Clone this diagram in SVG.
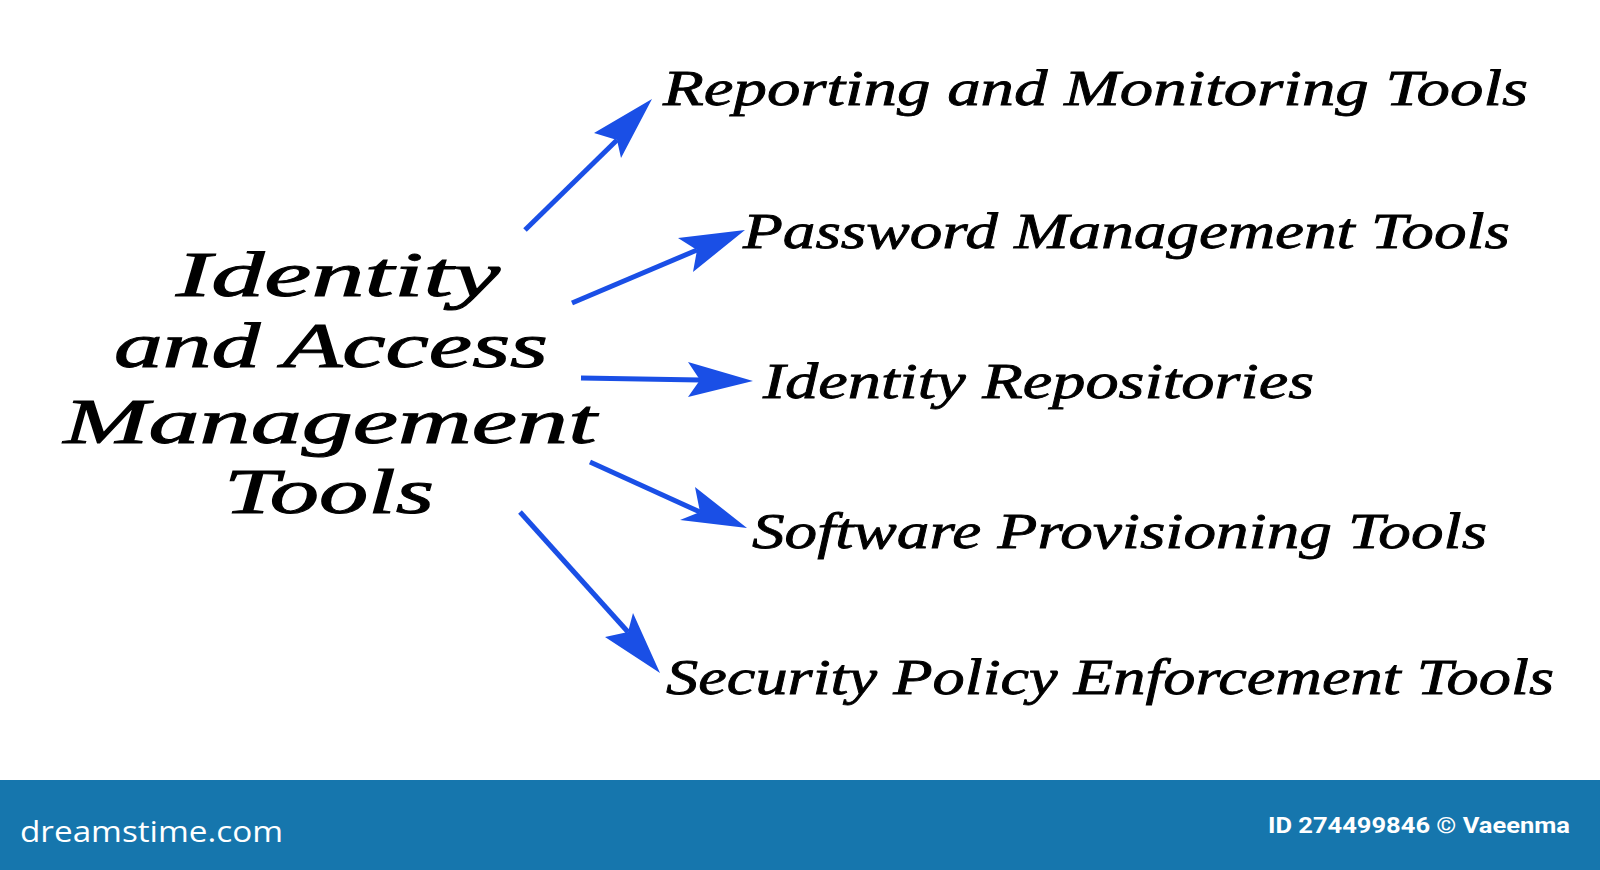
<svg xmlns="http://www.w3.org/2000/svg" width="1600" height="870" viewBox="0 0 1600 870">
<style>
.bg{fill:#ffffff}
.lbl{font-family:"Liberation Serif","DejaVu Serif",serif;font-style:italic;font-size:50px;fill:#000;stroke:#000;stroke-width:0.8}
.main{font-family:"Liberation Serif","DejaVu Serif",serif;font-style:italic;font-size:64px;fill:#000;stroke:#000;stroke-width:1;text-anchor:middle}
.shaft{stroke:#1a4fe6;stroke-width:5;fill:none;stroke-linecap:butt}
.head{fill:#1a4fe6}
.bar{fill:#1676ad}
.brand{font-family:"Open Sans","DejaVu Sans",sans-serif;font-size:30px;fill:#fff}
.id{font-family:"Roboto","Liberation Sans",sans-serif;font-weight:bold;font-size:22px;fill:#fff}
</style>
<rect class="bg" x="0" y="0" width="1600" height="870"/>
<g id="center">
<text class="main" x="338" y="296" textLength="324" lengthAdjust="spacingAndGlyphs">Identity</text>
<text class="main" x="331" y="367" textLength="434" lengthAdjust="spacingAndGlyphs">and Access</text>
<text class="main" x="330" y="443" textLength="533" lengthAdjust="spacingAndGlyphs">Management</text>
<text class="main" x="329" y="513" textLength="210" lengthAdjust="spacingAndGlyphs">Tools</text>
</g>
<g id="n1"><text class="lbl" x="663" y="105" textLength="865" lengthAdjust="spacingAndGlyphs">Reporting and Monitoring Tools</text></g>
<g id="n2"><text class="lbl" x="743" y="248" textLength="767" lengthAdjust="spacingAndGlyphs">Password Management Tools</text></g>
<g id="n3"><text class="lbl" x="763" y="398" textLength="551" lengthAdjust="spacingAndGlyphs">Identity Repositories</text></g>
<g id="n4"><text class="lbl" x="752" y="548" textLength="735" lengthAdjust="spacingAndGlyphs">Software Provisioning Tools</text></g>
<g id="n5"><text class="lbl" x="666" y="694" textLength="888" lengthAdjust="spacingAndGlyphs">Security Policy Enforcement Tools</text></g>
<g id="connectors">
<line class="shaft" x1="525" y1="230" x2="617" y2="140"/>
<polygon class="head" points="652,99 621,158 617,140 594,133"/>
<line class="shaft" x1="572" y1="303" x2="697" y2="250"/>
<polygon class="head" points="745,230 693,272 697,250 678,238"/>
<line class="shaft" x1="581" y1="378" x2="700" y2="380"/>
<polygon class="head" points="753,381 688,397 700,380 688,362"/>
<line class="shaft" x1="590" y1="462" x2="700" y2="512"/>
<polygon class="head" points="747,528 680,520 700,512 695,487"/>
<line class="shaft" x1="520" y1="512" x2="628" y2="632"/>
<polygon class="head" points="660,673 605,637 628,632 633,613"/>
</g>
<g id="footer">
<rect class="bar" x="0" y="780" width="1600" height="90"/>
<text class="brand" x="20" y="842" textLength="263" lengthAdjust="spacingAndGlyphs">dreamstime.com</text>
<text class="id" x="1268" y="833" textLength="302" lengthAdjust="spacingAndGlyphs">ID 274499846 © Vaeenma</text>
</g>
</svg>
